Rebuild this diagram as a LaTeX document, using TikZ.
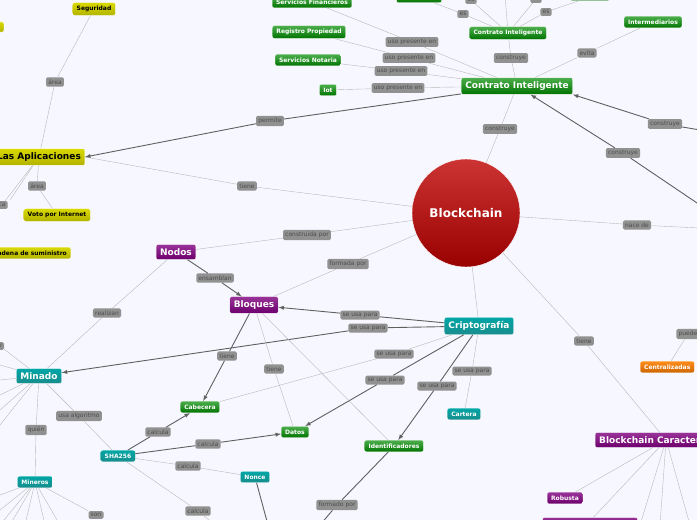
\documentclass[tikz,border=0pt]{standalone}
\usepackage{fontspec}
\setmainfont{DejaVu Sans}
\begin{document}
\begin{tikzpicture}[x=1pt,y=-1pt,
  lab/.style={fill=gray!85!black!75,text=black!70,rounded corners=1.5pt,inner sep=2.2pt,font=\fontsize{6}{7}\selectfont},
  box/.style={rounded corners=2pt,inner xsep=4pt,inner ysep=3.5pt,font=\bfseries\fontsize{6}{7}\selectfont,text=white,draw=white,line width=0.3pt},
  big/.style={box,font=\bfseries\fontsize{9}{10}\selectfont,inner sep=4pt},
  grn/.style={top color=green!55!black!70,bottom color=green!45!black},
  yel/.style={top color=yellow!85!black,bottom color=yellow!70!black,text=black},
  pur/.style={top color=violet!80,bottom color=violet!85!black},
  tea/.style={top color=cyan!65!black,bottom color=cyan!50!black!90},
  org/.style={top color=orange!90,bottom color=orange!80!black},
  ln/.style={draw=gray!55,line width=0.4pt},
  ar/.style={draw=gray!75!black,line width=0.9pt,-latex}]
\fill[blue!3] (0,0) rectangle (697,520);
\clip (0,0) rectangle (697,520);
% nodes
\node[circle,minimum size=108pt,inner sep=0,top color=red!75!black!80,bottom color=red!60!black,draw=white,font=\bfseries\fontsize{12}{14}\selectfont,text=white] (bc) at (466,213) {Blockchain};
\node[big,grn] (ci) at (517,86) {Contrato Inteligente};
\node[box,grn] (ci2) at (508,33) {Contrato Inteligente};
\node[box,grn] (int) at (653,22) {Intermediarios};
\node[box,grn] (sf) at (312,2) {Servicios Financieros};
\node[box,grn] (rp) at (309,32) {Registro Propiedad};
\node[box,grn] (sn) at (308,60) {Servicios Notaria};
\node[box,grn] (iot) at (328,90) {Iot};
\node[box,grn,minimum width=45pt] (acc) at (419,-3) {\phantom{Acceso}};
\node[box,grn,minimum width=40pt] (tr) at (590,-3) {};
\node[box,yel] (seg) at (94,9) {Seguridad};
\node[box,yel,minimum width=10pt] (y0) at (-2,27) {\phantom{x}};
\node[big,yel,anchor=east] (app) at (85,157) {Las Aplicaciones};
\node[box,yel] (voto) at (57,215) {Voto por Internet};
\node[box,yel,anchor=east] (cad) at (71,253) {Cadena de suministro};
\node[big,pur] (nod) at (176,252) {Nodos};
\node[big,pur] (blo) at (254,305) {Bloques};
\node[big,tea] (min) at (39,376) {Minado};
\node[big,tea] (cri) at (479,326) {Criptografía};
\node[box,grn] (cab) at (200,407) {Cabecera};
\node[box,grn] (dat) at (295,432) {Datos};
\node[box,tea] (sha) at (118,456) {SHA256};
\node[box,tea] (non) at (255,477) {Nonce};
\node[box,grn] (ide) at (394,446) {Identificadores};
\node[box,tea] (car) at (464,414) {Cartera};
\node[box,tea] (mnr) at (35,482) {Mineros};
\node[big,pur,anchor=west] (bcc) at (595,440) {Blockchain Caracteristicas};
\node[box,org,anchor=west] (cen) at (640,367) {Centralizadas};
\node[box,pur] (rob) at (565,498) {Robusta};
\node[box,pur,minimum width=95pt] (p2) at (590,521) {};
\node[box,tea,minimum width=30pt] (nx) at (268,525) {};
\coordinate (r1) at (700,130); \coordinate (r2) at (700,205); \coordinate (r3) at (700,228);
\coordinate (r4) at (700,330);
% labels and edges
\node[lab] (l1) at (55,82) {área}; \draw[ln] (seg) -- (l1) -- (app);
\node[lab] (l2) at (37,186) {área}; \draw[ln] (app) -- (l2) -- (voto);
\node[lab] (l3) at (2,205) {ca}; \draw[ln] (app) -- (l3);
\node[lab] (l4) at (247,186) {tiene}; \draw[ln] (bc) -- (l4) -- (app.east);
\node[lab] (l5) at (270,121) {permite}; \draw[ar,-] (ci) -- (l5); \draw[ar] (l5) -- (app.east);
\node[lab] (l6) at (500,129) {construye}; \draw[ln] (bc) -- (l6) -- (ci);
\node[lab] (l7) at (511,58) {construye}; \draw[ln] (ci) -- (l7) -- (ci2);
\node[lab] (l8) at (587,53) {evita}; \draw[ln] (ci) -- (l8) -- (int);
\node[lab] (l9) at (665,124) {construye}; \draw[ar,-] (r1) -- (l9); \draw[ar] (l9) -- (ci.south east);
\node[lab] (l10) at (623,153) {construye}; \draw[ar,-] (r2) -- (l10); \draw[ar] (l10) -- (ci);
\node[lab] (l11) at (637,225) {nace de}; \draw[ln] (bc) -- (l11) -- (r3);
\node[lab] (u1) at (412,42) {uso presente en}; \draw[ln] (ci) -- (u1) -- (sf);
\node[lab] (u2) at (409,58) {uso presente en}; \draw[ln] (ci) -- (u2) -- (rp);
\node[lab] (u3) at (401,71) {uso presente en}; \draw[ln] (ci) -- (u3) -- (sn);
\node[lab] (u4) at (398,88) {uso presente en}; \draw[ln] (ci) -- (u4) -- (iot);
\node[lab] (e1) at (463,14) {es}; \draw[ln] (ci2) -- (e1) -- (acc);
\node[lab] (e2) at (546,12) {es}; \draw[ln] (ci2) -- (e2) -- (tr);
\node[lab] (e3) at (471,0) {es}; \draw[ln] (ci2) -- (e3);
\node[lab] (e4) at (536,-1) {es}; \draw[ln] (ci2) -- (e4);
\draw[ln] (ci2) -- (505,-5);
\node[lab] (l12) at (307,235) {construida por}; \draw[ln] (bc) -- (l12) -- (nod);
\node[lab] (l13) at (348,264) {formada por}; \draw[ln] (bc) -- (l13) -- (blo);
\node[lab] (l14) at (215,278) {ensamblan}; \draw[ar,-] (nod) -- (l14); \draw[ar] (l14) -- (blo);
\node[lab] (l15) at (107,313) {realizan}; \draw[ln] (nod) -- (l15) -- (min);
\draw[ln] (bc) -- (cri);
\node[lab] (s1) at (360,315) {se usa para}; \draw[ar,-] (cri) -- (s1); \draw[ar] (s1) -- (blo);
\node[lab] (s2) at (368,328) {se usa para}; \draw[ar,-] (cri) -- (s2); \draw[ar] (s2) -- (min);
\node[lab] (s3) at (394,354) {se usa para}; \draw[ln] (cri) -- (s3) -- (cab);
\node[lab] (s4) at (385,380) {se usa para}; \draw[ar,-] (cri) -- (s4); \draw[ar] (s4) -- (dat);
\node[lab] (s5) at (437,386) {se usa para}; \draw[ar,-] (cri) -- (s5); \draw[ar] (s5) -- (ide);
\node[lab] (s6) at (472,371) {se usa para}; \draw[ln] (cri) -- (s6) -- (car);
\node[lab] (t1) at (227,356) {tiene}; \draw[ar,-] (blo) -- (t1); \draw[ar] (t1) -- (cab);
\node[lab] (t2) at (274,369) {tiene}; \draw[ln] (blo) -- (t2) -- (dat);
\draw[ln] (blo) -- (ide);
\node[lab] (l16) at (79,416) {usa algoritmo}; \draw[ln] (min) -- (l16) -- (sha);
\node[lab] (l17) at (36,430) {quién}; \draw[ln] (min) -- (l17) -- (mnr);
\node[lab] (c1) at (158,432) {calcula}; \draw[ar,-] (sha) -- (c1); \draw[ar] (c1) -- (cab);
\node[lab] (c2) at (208,444) {calcula}; \draw[ar,-] (sha) -- (c2); \draw[ar] (c2) -- (dat);
\node[lab] (c3) at (188,466) {calcula}; \draw[ln] (sha) -- (c3) -- (non);
\node[lab] (c4) at (198,511) {calcula}; \draw[ln] (sha) -- (c4) -- (215,525);
\draw[ar,-] (non) -- (nx);
\node[lab] (l18) at (96,515) {son}; \draw[ln] (mnr) -- (l18);
\node[lab] (l19) at (337,505) {formado por}; \draw[ar,-] (ide) -- (l19) -- (320,525);
\node[lab] (l20) at (584,341) {tiene}; \draw[ln] (bc) -- (l20) -- (bcc);
\node[lab] (l21) at (688,334) {puede}; \draw[ln] (r4) -- (l21) -- (cen);
\node[lab] (l22) at (0,346) {e}; \draw[ln] (l22) -- (min);
\draw[ln] (bcc) -- (rob); \draw[ln] (bcc) -- (p2);
\foreach \x in {640,660,690} \draw[ln] (bcc) -- (\x,525);
\foreach \y in {380,395,410,425} \draw[ln] (min) -- (0,\y);
\draw[ln] (min) -- (0,365);
\foreach \x in {0,10,25,45,60} \draw[ln] (mnr) -- (\x,525);
\draw[ln] (mnr) -- (0,495); \draw[ln] (mnr) -- (0,510);
\draw[ln] (app) -- (10,200);
\end{tikzpicture}
\end{document}
